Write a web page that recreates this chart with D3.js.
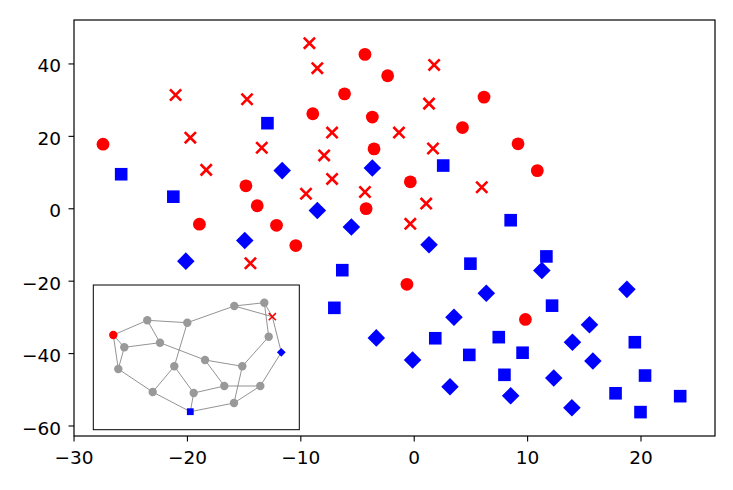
<!DOCTYPE html>
<html>
<head>
<meta charset="utf-8">
<script src="https://cdn.jsdelivr.net/npm/d3@7"></script>
<style>
  body { margin: 0; background: #fff; }
  .tick text { font-family: "DejaVu Sans", sans-serif; font-size: 18.5px; fill: #000; }
</style>
</head>
<body>
<div id="chart"></div>
<script>
// Scatter groups, [x, y]
const redCircles = [
  [-27.4, 17.7], [-18.9, -4.4], [-14.8, 6.2], [-13.8, 0.7], [-12.1, -4.7],
  [-10.4, -10.3], [-8.9, 26.1], [-6.1, 31.6], [-4.3, 42.5], [-2.3, 36.6],
  [6.2, 30.7], [-3.65, 25.2], [4.3, 22.3], [-3.5, 16.4], [9.2, 17.8],
  [10.9, 10.4], [-0.3, 7.3], [-4.2, -0.1], [-0.6, -21.0], [9.85, -30.7]
];
const redCrosses = [
  [-21.0, 31.3], [-19.7, 19.5], [-18.3, 10.6], [-14.7, 30.1], [-13.4, 16.7],
  [-9.2, 45.6], [-8.5, 38.7], [-7.2, 20.9], [-7.9, 14.6], [-7.2, 8.1],
  [-9.5, 4.0], [1.8, 39.6], [1.35, 28.9], [-1.3, 20.9], [1.7, 16.5],
  [6.0, 5.8], [-4.3, 4.5], [1.1, 1.3], [-0.3, -4.3], [-14.4, -15.2]
];
const blueSquares = [
  [-25.8, 9.4], [-21.2, 3.2], [-12.9, 23.5], [2.6, 11.8], [8.55, -3.3],
  [-6.3, -17.1], [-7.0, -27.5], [5.0, -15.3], [11.7, -13.3], [12.2, -26.9],
  [1.9, -35.9], [7.5, -35.6], [19.5, -37.0], [4.9, -40.5], [9.6, -39.9],
  [8.0, -46.0], [20.4, -46.2], [17.8, -51.1], [23.5, -51.9], [20.0, -56.3]
];
const blueDiamonds = [
  [-11.6, 10.4], [-14.9, -8.9], [-8.5, -0.6], [-5.5, -5.2], [-3.65, 11.1],
  [1.35, -10.1], [-20.1, -14.6], [11.3, -17.2], [6.4, -23.5], [18.8, -22.4],
  [3.55, -30.1], [15.5, -32.2], [-3.3, -35.8], [14.0, -37.0], [-0.1, -41.9],
  [15.8, -42.2], [12.35, -46.9], [3.2, -49.3], [8.55, -51.8], [13.95, -55.1]
];
const xTicks = [-30, -20, -10, 0, 10, 20];
const yTicks = [-60, -40, -20, 0, 20, 40];

// Inset graph: node layout positions and kind
const graphNodes = [
  {id: "A", x: 20.0, y: 94.7, kind: "circle"},
  {id: "B", x: 54.0, y: 109.4, kind: "grey"},
  {id: "C", x: 94.0, y: 107.0, kind: "grey"},
  {id: "D", x: 141.0, y: 123.7, kind: "grey"},
  {id: "E", x: 171.0, y: 127.0, kind: "grey"},
  {id: "F", x: 179.0, y: 113.0, kind: "cross"},
  {id: "G", x: 175.4, y: 93.0, kind: "grey"},
  {id: "H", x: 188.0, y: 77.4, kind: "diamond"},
  {id: "I", x: 66.7, y: 87.0, kind: "grey"},
  {id: "J", x: 31.0, y: 82.4, kind: "grey"},
  {id: "K", x: 25.0, y: 60.7, kind: "grey"},
  {id: "L", x: 81.0, y: 63.4, kind: "grey"},
  {id: "M", x: 111.7, y: 69.7, kind: "grey"},
  {id: "N", x: 149.0, y: 63.4, kind: "grey"},
  {id: "O", x: 59.4, y: 37.7, kind: "grey"},
  {id: "P", x: 100.4, y: 36.7, kind: "grey"},
  {id: "Q", x: 131.0, y: 43.7, kind: "grey"},
  {id: "R", x: 167.0, y: 43.7, kind: "grey"},
  {id: "S", x: 97.0, y: 18.0, kind: "square"},
  {id: "T", x: 140.7, y: 26.7, kind: "grey"}
];
const graphEdges = [
  ["A","B"], ["A","J"], ["A","K"], ["J","K"], ["J","I"], ["B","I"], ["B","C"],
  ["C","D"], ["C","L"], ["D","E"], ["D","F"], ["E","F"], ["E","G"], ["F","H"],
  ["G","N"], ["I","M"], ["M","N"], ["M","Q"], ["L","O"], ["L","P"], ["K","O"],
  ["O","S"], ["P","S"], ["P","Q"], ["Q","R"], ["R","H"], ["R","T"], ["N","T"],
  ["S","T"]
];

const W = 733, H = 490;
const plot = {left: 74, top: 20, right: 715, bottom: 436};

const svg = d3.select("#chart").append("svg")
  .attr("width", W).attr("height", H);

const x = d3.scaleLinear().domain([-29.96, 26.57]).range([plot.left, plot.right]);
const y = d3.scaleLinear().domain([-62.9, 52.0]).range([plot.bottom, plot.top]);

// markers
function drawCircles(g, data, sx, sy, r, color) {
  g.selectAll(null).data(data).enter().append("circle")
    .attr("cx", d => sx(d[0])).attr("cy", d => sy(d[1]))
    .attr("r", r).attr("fill", color);
}
function drawSquares(g, data, sx, sy, side, color, rot) {
  g.selectAll(null).data(data).enter().append("rect")
    .attr("x", -side / 2).attr("y", -side / 2)
    .attr("width", side).attr("height", side)
    .attr("fill", color)
    .attr("transform", d => `translate(${sx(d[0])},${sy(d[1])}) rotate(${rot})`);
}
function drawCrosses(g, data, sx, sy, half, sw, color) {
  g.selectAll(null).data(data).enter().append("path")
    .attr("d", `M${-half},${-half}L${half},${half}M${-half},${half}L${half},${-half}`)
    .attr("stroke", color).attr("stroke-width", sw).attr("fill", "none")
    .attr("transform", d => `translate(${sx(d[0])},${sy(d[1])})`);
}

const marks = svg.append("g");
drawCircles(marks, redCircles, x, y, 6.4, "#ff0000");
drawCrosses(marks, redCrosses, x, y, 5.6, 2.6, "#ff0000");
drawSquares(marks, blueSquares, x, y, 12.6, "#0000ff", 0);
drawSquares(marks, blueDiamonds, x, y, 12.4, "#0000ff", 45);

// axes
const fmt = d => d < 0 ? "\u2212" + Math.abs(d) : d;
const xAxis = svg.append("g")
  .attr("transform", `translate(0,${plot.bottom})`)
  .call(d3.axisBottom(x).tickValues(xTicks).tickSize(5.5).tickPadding(9.5).tickFormat(fmt));
const yAxis = svg.append("g")
  .attr("transform", `translate(${plot.left},0)`)
  .call(d3.axisLeft(y).tickValues(yTicks).tickSize(5.5).tickPadding(7.5).tickFormat(fmt));
yAxis.selectAll(".tick text").attr("dy", "0.46em");
[xAxis, yAxis].forEach(a => {
  a.select(".domain").remove();
  a.selectAll(".tick line").attr("stroke", "#000").attr("stroke-width", 1.1);
});

svg.append("rect")
  .attr("x", plot.left).attr("y", plot.top)
  .attr("width", plot.right - plot.left).attr("height", plot.bottom - plot.top)
  .attr("fill", "none").attr("stroke", "#000").attr("stroke-width", 1.2);

// inset
const inset = {left: 93.3, top: 285, right: 299.3, bottom: 429.7};
const ix = d3.scaleLinear().domain([0, 206]).range([inset.left, inset.right]);
const iy = d3.scaleLinear().domain([0, 144.7]).range([inset.bottom, inset.top]);

const ig = svg.append("g");
ig.append("rect")
  .attr("x", inset.left).attr("y", inset.top)
  .attr("width", inset.right - inset.left).attr("height", inset.bottom - inset.top)
  .attr("fill", "#fff").attr("stroke", "#000").attr("stroke-width", 1);

const byId = new Map(graphNodes.map(n => [n.id, n]));
ig.selectAll(null).data(graphEdges).enter().append("line")
  .attr("x1", d => ix(byId.get(d[0]).x)).attr("y1", d => iy(byId.get(d[0]).y))
  .attr("x2", d => ix(byId.get(d[1]).x)).attr("y2", d => iy(byId.get(d[1]).y))
  .attr("stroke", "#777").attr("stroke-width", 0.8);

const pos = kind => graphNodes.filter(n => n.kind === kind).map(n => [n.x, n.y]);
drawCircles(ig, pos("grey"), ix, iy, 4.2, "#999999");
drawCircles(ig, pos("circle"), ix, iy, 4.2, "#ff0000");
drawSquares(ig, pos("square"), ix, iy, 6.8, "#0000ff", 0);
drawSquares(ig, pos("diamond"), ix, iy, 6.2, "#0000ff", 45);
drawCrosses(ig, pos("cross"), ix, iy, 3.6, 1.5, "#ff0000");
</script>
</body>
</html>
